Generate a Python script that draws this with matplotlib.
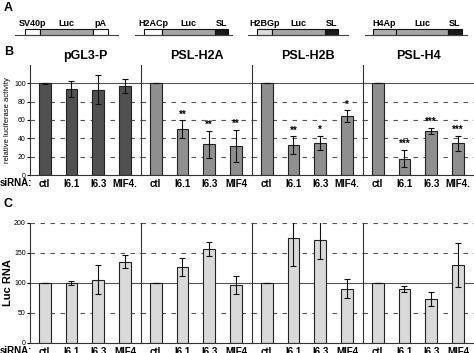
# Luciferase reporter panels: constructs (A), activity (B), Luc RNA (C)

import matplotlib
matplotlib.use('Agg')
from matplotlib import pyplot as plt
from matplotlib.patches import Rectangle

plt.rcParams['font.family'] = ['Liberation Sans', 'DejaVu Sans']

# --- Data

SIRNA = ['ctl', 'I6.1', 'I6.3', 'MIF4.']
PANELS = ['pGL3-P', 'PSL-H2A', 'PSL-H2B', 'PSL-H4']

# panel B: relative luciferase activity
ACT_PGL3 = [100, 94, 93, 97]
ACT_PGL3_ERR = [0.5, 9, 16, 8]
ACT_H2A = [100, 50, 33.5, 32]
ACT_H2A_ERR = [0, 9.5, 15, 17.5]
ACT_H2B = [100, 32.5, 35, 64]
ACT_H2B_ERR = [0, 10, 8, 6.5]
ACT_H4 = [100, 18, 48, 34.5]
ACT_H4_ERR = [0, 9.5, 3.5, 8.5]
STARS_H2A = ['', '**', '**', '**']
STARS_H2B = ['', '**', '*', '*']
STARS_H4 = ['', '***', '***', '***']

# panel C: Luc RNA
RNA_PGL3 = [100, 99, 104.5, 135]
RNA_PGL3_ERR = [0, 3, 24, 11.5]
RNA_H2A = [100, 125.5, 156, 96]
RNA_H2A_ERR = [0, 15, 11.5, 15]
RNA_H2B = [100, 175, 171, 89.5]
RNA_H2B_ERR = [0, 48, 32.5, 16]
RNA_H4 = [100, 89, 73, 129.5]
RNA_H4_ERR = [0, 5.5, 11.5, 37]

# panel A: construct diagrams (label, x-start, x-end, fill colour)
CONSTRUCTS = [
    [('SV40p', 25, 40, 'white'), ('Luc', 40, 93, '#a6a6a6'), ('pA', 93, 108, 'white')],
    [('H2ACp', 144, 162, 'white'), ('Luc', 162, 215, '#a6a6a6'), ('SL', 215, 228, '#1a1a1a')],
    [('H2BGp', 257, 272, '#dcdcdc'), ('Luc', 272, 325, '#a6a6a6'), ('SL', 325, 338, '#1a1a1a')],
    [('H4Ap', 373, 396, '#b0b0b0'), ('Luc', 396, 448, '#a6a6a6'), ('SL', 448, 462, '#1a1a1a')],
]
LINE_SPANS = [(15, 118), (135, 232), (248, 348), (365, 467)]

W, H = 474, 353


def draw_panel(ax, vals, errs, color, ylim, dashed, solid, yticks, stars=None, show_y=True):
    x = range(len(vals))
    for y in dashed:
        ax.axhline(y, color='#555555', lw=0.8, ls=(0, (4, 5)), zorder=0)
    ax.axhline(solid, color='#555555', lw=0.8, zorder=0)
    ax.bar(x, vals, width=0.44, color=color, edgecolor='#222222', lw=0.8, zorder=2)
    ax.errorbar(x, vals, yerr=errs, fmt='none', ecolor='#111111', elinewidth=0.8,
                capsize=2, capthick=0.8, zorder=3)
    if stars is not None:
        for i, s in enumerate(stars):
            if s:
                ax.text(i, vals[i] + errs[i] + 0.5, s, ha='center', va='bottom',
                        fontsize=7, fontweight='bold')
    ax.set_xlim(-0.55, 3.6)
    ax.set_ylim(*ylim)
    ax.set_xticks(list(x))
    ax.set_xticklabels(SIRNA, fontsize=7, fontweight='bold')
    ax.tick_params(axis='x', length=0, pad=3)
    for s in ['top', 'right']:
        ax.spines[s].set_visible(False)
    ax.spines['left'].set_color('#333333')
    ax.spines['bottom'].set_color('#333333')
    ax.patch.set_alpha(0)
    if show_y:
        ax.set_yticks(yticks)
        ax.tick_params(axis='y', labelsize=5, length=2, pad=1)
    else:
        ax.set_yticks([])


def main():
    fig = plt.figure(figsize=(W / 100, H / 100), dpi=100)

    # --- panel A, drawn in pixel coordinates
    ax_a = fig.add_axes([0, 0, 1, 1])
    ax_a.set_xlim(0, W)
    ax_a.set_ylim(H, 0)
    ax_a.axis('off')
    for (x0, x1), parts in zip(LINE_SPANS, CONSTRUCTS):
        ax_a.plot([x0, x1], [34.5, 34.5], color='#444444', lw=0.8)
        for label, s, e, c in parts:
            ax_a.add_patch(Rectangle((s, 28.5), e - s, 6.5, facecolor=c,
                                     edgecolor='#111111', lw=0.8))
            ax_a.text((s + e) / 2, 23, label, ha='center', va='center',
                      fontsize=6.5, fontweight='bold')
    for letter, y in [('A', 8), ('B', 52), ('C', 204)]:
        ax_a.text(4, y, letter, ha='left', va='center', fontsize=9, fontweight='bold')
    ax_a.text(0, 183, 'siRNA:', ha='left', va='center', fontsize=7, fontweight='bold')
    ax_a.text(0, 351, 'siRNA:', ha='left', va='center', fontsize=7, fontweight='bold')

    left = 30 / W
    pw = (W - 30) / W / 4

    # --- panel B
    act = [(ACT_PGL3, ACT_PGL3_ERR, '#505050', None),
           (ACT_H2A, ACT_H2A_ERR, '#8f8f8f', STARS_H2A),
           (ACT_H2B, ACT_H2B_ERR, '#8f8f8f', STARS_H2B),
           (ACT_H4, ACT_H4_ERR, '#8f8f8f', STARS_H4)]
    for i, (v, e, c, st) in enumerate(act):
        ax = fig.add_axes([left + i * pw, (H - 175) / H, pw, 110 / H])
        draw_panel(ax, v, e, c, (0, 120), [20, 40, 60, 80], 100,
                   [0, 20, 40, 60, 80, 100], stars=st, show_y=(i == 0))
        ax.set_title(PANELS[i], fontsize=9, fontweight='bold', pad=4)
        ax.set_xticklabels([s[:-1] if (s == 'MIF4.' and i == 1) else s for s in SIRNA],
                           fontsize=7, fontweight='bold')
        if i == 0:
            ax.set_ylabel('relative luciferase activity', fontsize=5.5, labelpad=2)

    # --- panel C
    rna = [(RNA_PGL3, RNA_PGL3_ERR), (RNA_H2A, RNA_H2A_ERR),
           (RNA_H2B, RNA_H2B_ERR), (RNA_H4, RNA_H4_ERR)]
    for i, (v, e) in enumerate(rna):
        ax = fig.add_axes([left + i * pw, (H - 342.5) / H, pw, 120 / H])
        draw_panel(ax, v, e, '#d9d9d9', (0, 200), [50, 150, 200], 100,
                   [0, 50, 100, 150, 200], show_y=(i == 0))
        ax.set_xticklabels([s.rstrip('.') for s in SIRNA], fontsize=7, fontweight='bold')
        if i == 0:
            ax.set_ylabel('Luc RNA', fontsize=8, fontweight='bold', labelpad=1)

    fig.savefig('out.png', dpi=100)


if __name__ == '__main__':
    main()
